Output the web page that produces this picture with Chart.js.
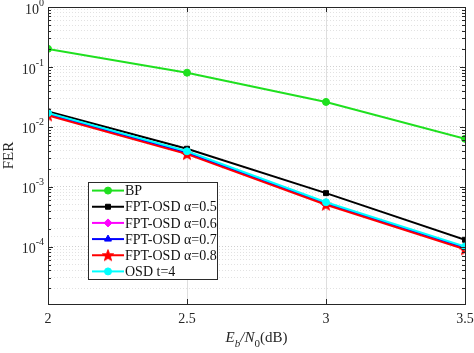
<!DOCTYPE html>
<html>
<head>
<meta charset="utf-8">
<script src="https://cdn.jsdelivr.net/npm/chart.js@4"></script>
<style>
  html, body { margin: 0; padding: 0; background: #fff; }
  #wrap { width: 474px; height: 353px; }
</style>
</head>
<body>
<div id="wrap"><canvas id="ferChart"></canvas></div>
<script>
// values
const ebn0 = [2, 2.5, 3, 3.5]
const ferBP = [0.2, 0.08, 0.026, 0.0063]
const ferA05 = [0.018, 0.0043, 0.00078, 0.00013]
const ferA06 = [0.016, 0.0036, 0.00052, 0.000093]
const ferA07 = [0.0165, 0.0037, 0.00053, 0.000096]
const ferA08 = [0.0155, 0.0035, 0.0005, 0.00009]
const ferOSD = [0.017, 0.0039, 0.00055, 0.0001]
const xTicks = [2, 2.5, 3, 3.5]
const yExponents = [0, -1, -2, -3, -4]
const yMin = 1.1e-5
const seriesNames = ['BP', 'FPT-OSD \u03b1=0.5', 'FPT-OSD \u03b1=0.6', 'FPT-OSD \u03b1=0.7', 'FPT-OSD \u03b1=0.8', 'OSD t=4']

const SERIF = '"Liberation Serif", "Times New Roman", serif'

// filled pentagram marker like matlab's 'p'
function starMarker(color, r) {
    const size = Math.ceil(r * 2 + 4)
    const c = document.createElement('canvas')
    c.width = size
    c.height = size
    const g = c.getContext('2d')
    g.translate(size / 2, size / 2 + 0.5)
    g.beginPath()
    for (let i = 0; i < 10; i++) {
        const rad = i % 2 === 0 ? r : r * 0.42
        const a = -Math.PI / 2 + i * Math.PI / 5
        g.lineTo(rad * Math.cos(a), rad * Math.sin(a))
    }
    g.closePath()
    g.fillStyle = color
    g.fill()
    g.strokeStyle = color
    g.lineWidth = 1
    g.stroke()
    return c
}

function toPoints(values) {
    return ebn0.map((x, i) => ({ x: x, y: values[i] }))
}

function series(i, values, color, style, radius, order) {
    return {
        label: seriesNames[i],
        data: toPoints(values),
        borderColor: color,
        backgroundColor: color,
        pointBackgroundColor: color,
        pointBorderColor: color,
        pointStyle: style,
        pointRadius: radius,
        pointBorderWidth: 1,
        borderWidth: 2,
        tension: 0,
        order: order
    }
}

const datasets = [
    series(0, ferBP, '#1fe01f', 'circle', 3.5, 6),
    series(1, ferA05, '#000000', 'rect', 3.5, 5),
    series(2, ferA06, '#ff00ff', 'rectRot', 4, 4),
    series(3, ferA07, '#0000ff', 'triangle', 4, 3),
    series(4, ferA08, '#ff0000', starMarker('#ff0000', 6), 5, 2),
    series(5, ferOSD, '#00ffff', 'circle', 3.5, 1)
]

// box, inward ticks, tick labels, axis titles and legend, matlab style
const matlabFrame = {
    id: 'matlabFrame',
    afterDatasetsDraw(chart) {
        const ctx = chart.ctx
        const area = chart.chartArea
        const xs = chart.scales.x
        const ys = chart.scales.y
        ctx.save()

        // inward tick marks
        ctx.strokeStyle = '#262626'
        ctx.lineWidth = 1
        ctx.beginPath()
        xTicks.forEach(v => {
            const px = Math.round(xs.getPixelForValue(v)) + 0.5
            ctx.moveTo(px, area.bottom); ctx.lineTo(px, area.bottom - 5)
            ctx.moveTo(px, area.top); ctx.lineTo(px, area.top + 5)
        })
        for (let e = -5; e <= 0; e++) {
            for (let m = 1; m <= 9; m++) {
                const v = m * Math.pow(10, e)
                if (v > 1.0001) break
                if (v < yMin) continue
                const py = Math.round(ys.getPixelForValue(v)) + 0.5
                const len = m === 1 ? 5 : 3
                ctx.moveTo(area.left, py); ctx.lineTo(area.left + len, py)
                ctx.moveTo(area.right, py); ctx.lineTo(area.right - len, py)
            }
        }
        ctx.stroke()

        // axes box
        ctx.strokeRect(Math.round(area.left) + 0.5, Math.round(area.top) + 0.5,
            Math.round(area.right - area.left), Math.round(area.bottom - area.top))

        // x tick labels
        ctx.fillStyle = '#262626'
        ctx.font = '14px ' + SERIF
        ctx.textAlign = 'center'
        ctx.textBaseline = 'middle'
        xTicks.forEach(v => {
            ctx.fillText(String(v), xs.getPixelForValue(v), area.bottom + 15)
        })

        // y tick labels 10^n
        yExponents.forEach(e => {
            const py = ys.getPixelForValue(Math.pow(10, e))
            const sup = e === 0 ? '0' : '-' + (-e)
            ctx.font = '10px ' + SERIF
            const supW = ctx.measureText(sup).width
            const right = area.left - 4
            ctx.textAlign = 'left'
            ctx.fillText(sup, right - supW, py - 4)
            ctx.font = '14px ' + SERIF
            ctx.textAlign = 'right'
            ctx.fillText('10', right - supW, py + 3)
        })

        // x axis title: E_b/N_0(dB)
        const parts = [
            { t: 'E', f: 'italic 15px ', dy: 0 },
            { t: 'b', f: 'italic 11px ', dy: 5 },
            { t: '/N', f: 'italic 15px ', dy: 0 },
            { t: '0', f: '11px ', dy: 5 },
            { t: '(dB)', f: '15px ', dy: 0 }
        ]
        let total = 0
        parts.forEach(p => { ctx.font = p.f + SERIF; p.w = ctx.measureText(p.t).width; total += p.w })
        let px = (area.left + area.right) / 2 - total / 2
        ctx.textAlign = 'left'
        ctx.textBaseline = 'alphabetic'
        parts.forEach(p => {
            ctx.font = p.f + SERIF
            ctx.fillText(p.t, px, 342 + p.dy)
            px += p.w
        })

        // y axis title
        ctx.save()
        ctx.translate(9, (area.top + area.bottom) / 2)
        ctx.rotate(-Math.PI / 2)
        ctx.textAlign = 'center'
        ctx.textBaseline = 'middle'
        ctx.font = '15px ' + SERIF
        ctx.fillText('FER', 0, 0)
        ctx.restore()

        // legend box
        const lx = 88, ly = 182, lw = 129, lh = 97
        ctx.fillStyle = '#ffffff'
        ctx.fillRect(lx, ly, lw, lh)
        ctx.strokeStyle = '#2b2b2b'
        ctx.strokeRect(lx + 0.5, ly + 0.5, lw, lh)
        const rowH = lh / datasets.length
        datasets.forEach((ds, i) => {
            const cy = ly + rowH * (i + 0.5) + 0.5
            ctx.strokeStyle = ds.borderColor
            ctx.lineWidth = 2
            ctx.beginPath()
            ctx.moveTo(lx + 4, cy)
            ctx.lineTo(lx + 36, cy)
            ctx.stroke()
            ctx.fillStyle = ds.pointBackgroundColor
            ctx.lineWidth = 1
            Chart.helpers.drawPoint(ctx, {
                pointStyle: ds.pointStyle,
                radius: ds.pointRadius,
                rotation: 0,
                borderWidth: 1
            }, lx + 20, cy)
            ctx.fillStyle = '#111'
            ctx.font = '14px ' + SERIF
            ctx.textAlign = 'left'
            ctx.textBaseline = 'middle'
            ctx.fillText(ds.label, lx + 37, cy + 1)
        })
        ctx.restore()
    }
}

const chart = new Chart(document.getElementById('ferChart'), {
    type: 'line',
    data: { datasets: datasets },
    plugins: [matlabFrame],
    options: {
        responsive: true,
        maintainAspectRatio: false,
        animation: false,
        layout: { padding: { top: 7, right: 9, left: 0, bottom: 0 } },
        plugins: {
            legend: { display: false },
            tooltip: { enabled: false }
        },
        scales: {
            x: {
                type: 'linear',
                min: 2,
                max: 3.5,
                ticks: { stepSize: 0.5, display: false },
                grid: { color: '#dedede', drawTicks: false, lineWidth: 1 },
                border: { display: false },
                afterFit(scale) { scale.height = 49 }
            },
            y: {
                type: 'logarithmic',
                min: yMin,
                max: 1,
                ticks: { display: false, autoSkip: false },
                grid: {
                    drawTicks: false,
                    color: ctx => {
                        const v = ctx.tick ? ctx.tick.value : 0
                        const major = Math.abs(Math.log10(v) - Math.round(Math.log10(v))) < 1e-6
                        return major ? '#d0d0d0' : '#e2e2e2'
                    }
                },
                border: { display: false, dash: [1, 2] },
                afterFit(scale) { scale.width = 48 }
            }
        }
    }
})
</script>
</body>
</html>
